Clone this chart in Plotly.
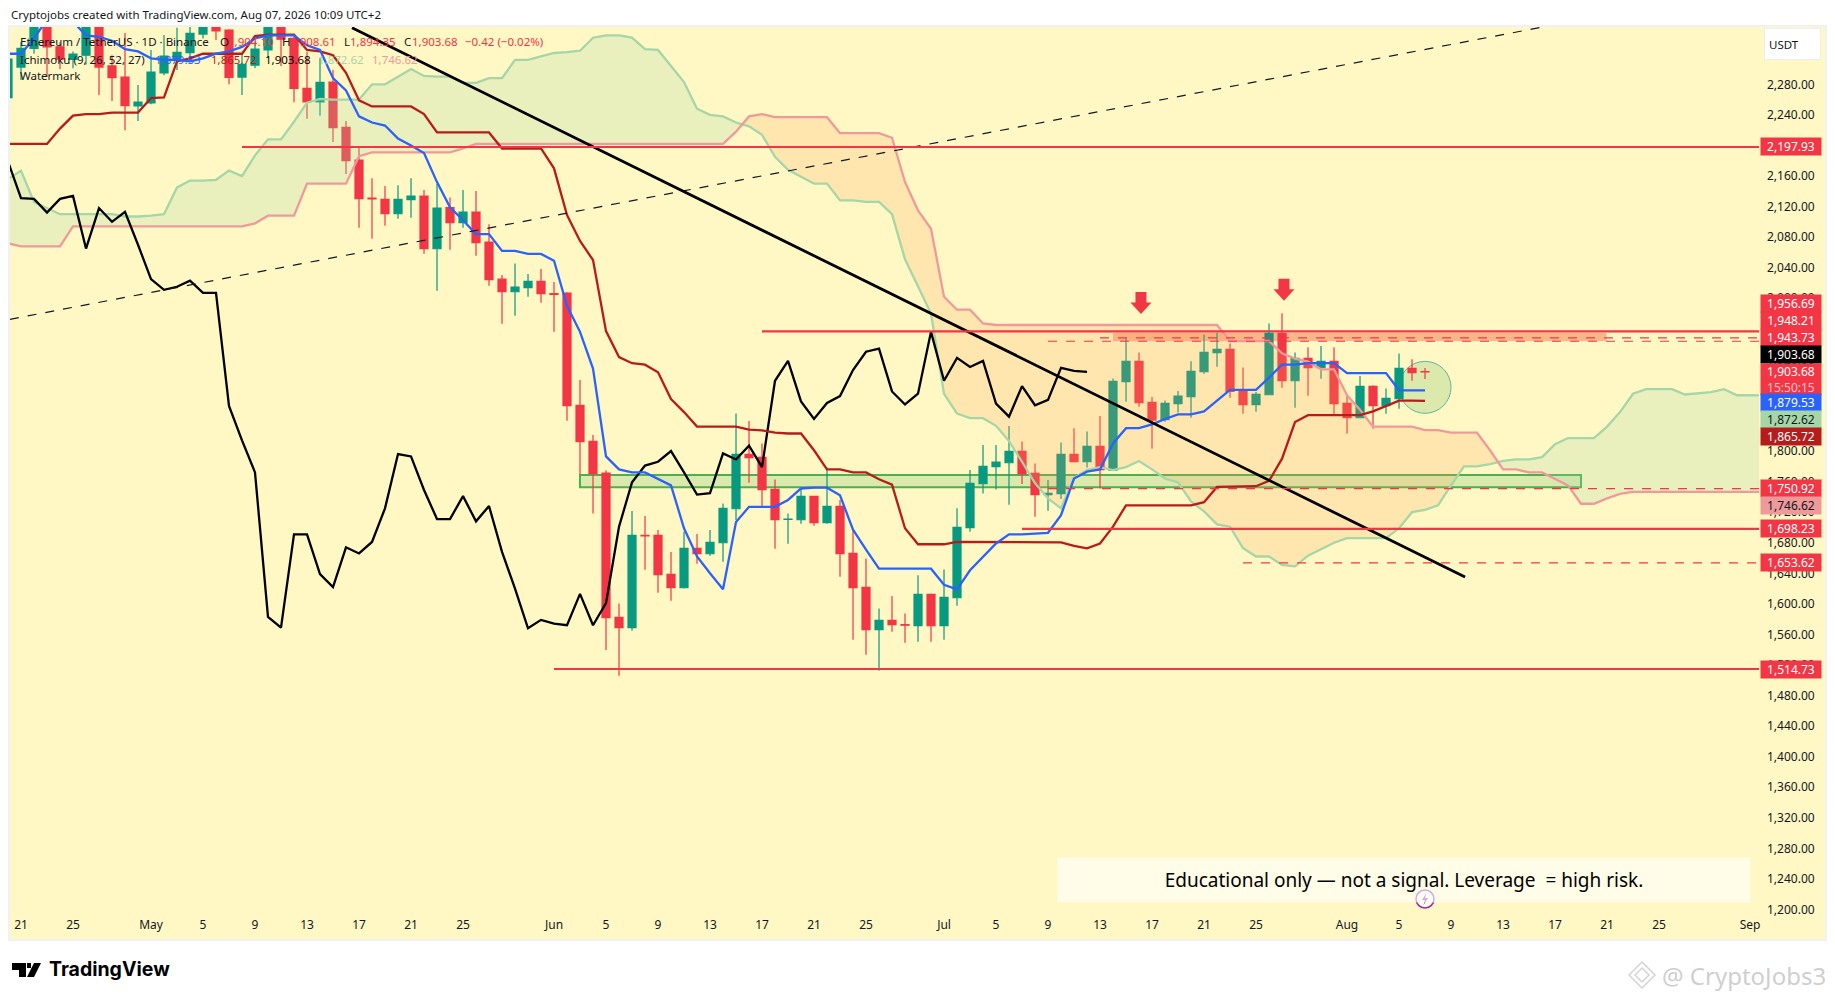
import numpy as np
import pandas as pd
import plotly.graph_objects as go

# first candle on the chart, everything below is counted in days from here
START_DATE = pd.Timestamp("2026-04-20")

opens = [2262.5, 2302.6, 2327, 2375, 2329, 2312.7, 2318, 2372, 2304, 2289.5,
         2251.6, 2255.5, 2294.8, 2314, 2321.4, 2345.8, 2355, 2351, 2289.5, 2305,
         2325, 2360, 2340, 2274.7, 2257, 2283, 2223.6, 2180.9, 2131, 2129.4,
         2110.6, 2129, 2133.8, 2064.8, 2118.5, 2098.9, 2112.8, 2073.5, 2025, 2008.5,
         2013.8, 2022, 2006, 2006.8, 1859.8, 1812.6, 1771.2, 1582.3, 1568.8, 1689.6,
         1689.6, 1638.6, 1621.1, 1672.6, 1665.6, 1680, 1724.5, 1795.6, 1791.7, 1749.8,
         1710.5, 1710.1, 1740.7, 1706.2, 1727.6, 1666, 1621.6, 1566.2, 1578.4, 1572.7,
         1571.4, 1612.4, 1571.4, 1608, 1699.7, 1757.2, 1779.5, 1784.7, 1799.6, 1770.8,
         1743, 1744.2, 1795.6, 1786, 1806.1, 1775.1, 1890.8, 1917.4, 1863.7, 1841,
         1862, 1871.1, 1903.8, 1928.7, 1933, 1878.1, 1860.7, 1873.7, 1954, 1892,
         1921.3, 1909, 1917.4, 1862.4, 1843.6, 1884.6, 1859.3, 1868.5, 1908.2, 1904.10]
highs = [2330, 2335, 2380, 2385, 2335, 2323, 2375, 2380, 2318, 2347,
         2279, 2325, 2344.5, 2354, 2360, 2372, 2365, 2352, 2320, 2336,
         2370, 2375, 2345, 2322.7, 2314, 2298.7, 2232, 2198.3, 2156.9, 2146.8,
         2148, 2156.9, 2141.6, 2149.5, 2132, 2141.6, 2140.3, 2097, 2030.4, 2045.6,
         2031.7, 2038.2, 2021.2, 2008, 1892.9, 1820.9, 1775, 1600.6, 1721.5, 1714.9,
         1696.6, 1667.8, 1694.4, 1691.4, 1696.6, 1731.5, 1849.3, 1839.3, 1810, 1762.9,
         1718.4, 1751.1, 1741, 1778.6, 1735.9, 1696.6, 1659.5, 1594, 1610.2, 1587.5,
         1637.3, 1613.7, 1645.1, 1725, 1775.1, 1807.8, 1807.8, 1832.7, 1812.6, 1783.8,
         1762, 1811.3, 1829.7, 1825.7, 1845.8, 1895, 1947.5, 1929.1, 1870.7, 1866.3,
         1878.5, 1917.4, 1952.7, 1955.3, 1940.9, 1909.5, 1877.2, 1967.1, 1980.2, 1929.1,
         1935.7, 1937.4, 1935.7, 1874.2, 1898.2, 1886, 1882, 1927.8, 1920, 1908.61]
lows = [2255, 2285.6, 2320, 2290, 2300, 2301, 2306, 2266, 2258, 2220,
        2232, 2254, 2292, 2298.7, 2315, 2340, 2338, 2280, 2266, 2301,
        2315, 2304, 2256.4, 2235, 2239, 2204.5, 2162.5, 2092.3, 2077.9, 2094.9,
        2104, 2105.4, 2058.3, 2009.8, 2063.5, 2092.3, 2055.7, 2016.4, 1966.7, 1977.1,
        2002, 1994.2, 1956, 1839.7, 1768.6, 1718.4, 1539.6, 1505.9, 1564.9, 1644.7,
        1614.6, 1604.1, 1620, 1652.5, 1663, 1655.1, 1709.7, 1758.6, 1725.8, 1672.2,
        1678.7, 1704.9, 1702.3, 1705, 1635.5, 1553, 1533.4, 1512.5, 1563.5, 1549.1,
        1550.5, 1550.5, 1553, 1597.6, 1694.4, 1744.6, 1749.8, 1729.8, 1756.8, 1714,
        1721.9, 1737.2, 1785, 1778.6, 1751.1, 1773.8, 1864.6, 1858, 1803.1, 1838.4,
        1850.6, 1843.6, 1901.2, 1910.4, 1869.8, 1848.9, 1851.5, 1873, 1882.9, 1856.7,
        1872.4, 1894.7, 1848, 1822.7, 1843, 1829.2, 1848.9, 1855.4, 1892, 1894.35]
closes = [2313, 2327, 2372, 2329, 2313, 2319.6, 2368, 2302.6, 2288.7, 2252,
          2256.8, 2296, 2317, 2321.8, 2346.7, 2355, 2350, 2289, 2306, 2326,
          2355, 2339, 2274.7, 2257, 2282.6, 2223.2, 2180, 2130.3, 2130, 2110.6,
          2129.4, 2133.8, 2064.8, 2118, 2098.9, 2112.8, 2072.7, 2024.2, 2008.5, 2014.7,
          2022, 2005.9, 2005, 1859.3, 1812.2, 1770.3, 1581.9, 1568.8, 1689.6, 1689,
          1638.1, 1621.1, 1672.6, 1665.6, 1680.5, 1724.9, 1795.6, 1791.3, 1749.4, 1710.1,
          1711, 1740.7, 1706.2, 1727.6, 1665.6, 1621.1, 1566.2, 1578.4, 1572.7, 1572,
          1612.4, 1571.4, 1608.5, 1700.1, 1757.7, 1780, 1785.6, 1799.6, 1770.3, 1742.8,
          1744.6, 1795.6, 1786, 1806.1, 1775.6, 1891.2, 1917.4, 1863.3, 1840.6, 1862.4,
          1872, 1904.3, 1929.1, 1933, 1878.1, 1860.7, 1874.2, 1954, 1892, 1921.3,
          1909, 1917.4, 1861.9, 1843.6, 1884.6, 1859.3, 1868.9, 1908.2, 1902.5, 1903.68]

# Ichimoku lines, one value per day from START_DATE
tenkan = [2320, 2320, 2340, 2365, 2375, 2362, 2344, 2342, 2337, 2326,
          2323, 2314, 2312, 2312, 2310, 2314, 2320, 2323, 2329, 2340,
          2344, 2344, 2344, 2331, 2325, 2288, 2272, 2238, 2230, 2226,
          2209, 2200, 2190, 2152, 2119, 2102, 2084, 2084, 2062, 2062,
          2058, 2058, 2049, 1990, 1956, 1908, 1793, 1776, 1772, 1772,
          1763, 1755, 1699, 1662, 1640, 1619, 1707, 1727, 1727, 1727,
          1736, 1751, 1752, 1752, 1742, 1697, 1671, 1646, 1646, 1646,
          1646, 1646, 1625, 1619, 1644, 1662, 1679, 1691, 1691, 1692,
          1693, 1716, 1764, 1773, 1776, 1810, 1830, 1830, 1835, 1842,
          1848, 1848, 1852, 1866, 1880, 1880, 1880, 1896, 1913, 1913,
          1915, 1915, 1915, 1902, 1902, 1902, 1902, 1879.5, 1879.5, 1879.53]
kijun = [2202, 2202, 2202, 2202, 2222, 2239, 2241, 2241, 2243, 2243,
         2243, 2262, 2263, 2310, 2314, 2320, 2320, 2320, 2320, 2343,
         2345, 2345, 2345, 2325, 2323, 2318, 2295, 2259, 2251, 2251,
         2251, 2251, 2241, 2217, 2217, 2217, 2217, 2217, 2196, 2196,
         2196, 2196, 2170, 2109, 2075, 2050, 1957, 1923, 1915, 1913,
         1903, 1868, 1851, 1832, 1832, 1832, 1832, 1828, 1827, 1824,
         1823, 1823, 1801, 1776, 1776, 1772, 1772, 1763, 1756, 1699,
         1678, 1678, 1678, 1681, 1681, 1681, 1681, 1681, 1681, 1681,
         1681, 1680.5, 1676, 1672.6, 1679, 1701, 1729, 1729, 1729, 1729,
         1729, 1729, 1733, 1753, 1753.5, 1753.5, 1754, 1761, 1790, 1838,
         1847, 1847, 1847, 1847, 1847, 1852, 1859, 1866, 1866, 1865.72]
chikou = [2179, 2131, 2130, 2112, 2130, 2134, 2065, 2118, 2100, 2113,
          2070, 2025, 2011, 2015, 2023, 2007, 2007, 1859, 1814, 1772,
          1583, 1569, 1691, 1691, 1639, 1622, 1674, 1666, 1681, 1725,
          1796, 1793, 1749, 1711, 1711, 1741, 1708, 1728, 1668, 1620,
          1568, 1579, 1574, 1572, 1613, 1572, 1601, 1701, 1759, 1781,
          1786, 1800, 1772, 1743, 1745, 1797, 1789, 1807, 1779, 1892,
          1918, 1865, 1842, 1863, 1872, 1906, 1930, 1934, 1878, 1861,
          1875, 1956, 1892, 1922, 1910, 1918, 1862, 1845, 1885, 1860,
          1867, 1909, 1905, 1903.68]
span_a = [2156, 2167, 2126, 2118, 2110, 2110, 2110, 2110, 2110, 2107,
          2107, 2108, 2110, 2145, 2154, 2154, 2155, 2167, 2160, 2187,
          2208, 2208, 2231, 2256, 2261, 2260, 2260, 2260, 2280, 2280,
          2290, 2300, 2291, 2290, 2290, 2282, 2282, 2288, 2288, 2312,
          2312, 2317, 2321, 2322, 2324, 2341, 2344, 2344, 2341, 2326,
          2325, 2304, 2283, 2248, 2240, 2238, 2230, 2225, 2214, 2185,
          2168, 2159, 2150, 2150, 2128, 2128, 2126, 2126, 2110, 2051,
          2015, 1980, 1875, 1849, 1843, 1843, 1833, 1813, 1786, 1758,
          1738, 1725, 1765, 1775, 1779, 1775, 1779, 1787, 1776, 1764,
          1759, 1734, 1721, 1704, 1701, 1673, 1662, 1662, 1651, 1649,
          1663, 1671, 1680, 1686, 1686, 1686, 1686, 1699, 1720, 1723,
          1729, 1755, 1780, 1780, 1783, 1787, 1789, 1789, 1792, 1809,
          1817, 1817, 1817, 1832, 1851, 1875, 1881, 1881, 1881, 1874,
          1875, 1877, 1881, 1873, 1873, 1872.62]
span_b = [2072, 2068, 2068, 2068, 2068, 2094, 2094, 2094, 2094, 2094,
          2094, 2094, 2094, 2094, 2094, 2094, 2094, 2094, 2094, 2098,
          2108, 2108, 2108, 2150, 2150, 2150, 2150, 2186, 2191, 2191,
          2191, 2191, 2191, 2191, 2191, 2196, 2202, 2202, 2202, 2202,
          2202, 2202, 2202, 2202, 2202, 2202, 2202, 2202, 2202, 2202,
          2202, 2202, 2202, 2202, 2202, 2202, 2218, 2238, 2241, 2237,
          2237, 2237, 2237, 2237, 2216, 2216, 2216, 2216, 2210, 2152,
          2115, 2091, 2002, 1985, 1985, 1967, 1965, 1965, 1965, 1965,
          1965, 1965, 1965, 1965, 1965, 1965, 1965, 1965, 1965, 1965,
          1965, 1965, 1965, 1965, 1944, 1944, 1944, 1944, 1928, 1921,
          1917, 1907, 1907, 1873, 1854, 1832, 1832, 1832, 1832, 1827.5,
          1827.5, 1824, 1824, 1824, 1801, 1776, 1776, 1772, 1772, 1763,
          1755, 1731, 1731, 1738, 1744, 1746.5, 1746.5, 1746.5, 1746.5, 1746.5,
          1746.5, 1746.5, 1746.5, 1746.5, 1746.5, 1746.62]

# axis labels
tick_dates = ["2026-04-21", "2026-04-25", "2026-05-01", "2026-05-05", "2026-05-09", "2026-05-13",
              "2026-05-17", "2026-05-21", "2026-05-25", "2026-06-01", "2026-06-05", "2026-06-09",
              "2026-06-13", "2026-06-17", "2026-06-21", "2026-06-25", "2026-07-01", "2026-07-05",
              "2026-07-09", "2026-07-13", "2026-07-17", "2026-07-21", "2026-07-25", "2026-08-01",
              "2026-08-05", "2026-08-09", "2026-08-13", "2026-08-17", "2026-08-21", "2026-08-25",
              "2026-09-01"]
tick_text = ["21", "25", "May", "5", "9", "13", "17", "21", "25", "Jun", "5", "9", "13", "17", "21",
             "25", "Jul", "5", "9", "13", "17", "21", "25", "Aug", "5", "9", "13", "17", "21", "25", "Sep"]
price_ticks = list(range(1200, 2281, 40))

# drawings: level, first day
level_prices = [2197.93, 1956.69, 1698.23, 1514.73]
level_starts = ["2026-05-08", "2026-06-17", "2026-07-07", "2026-06-01"]
dashed_prices = [1948.21, 1943.73, 1750.92, 1653.62]
dashed_starts = ["2026-07-13", "2026-07-09", "2026-07-09", "2026-07-24"]

# the two sloped lines, as day number and price of both ends
falling_days = [26.46, 112.08]
falling_prices = [2354, 1635.1]
rising_days = [0.15, 117.85]
rising_prices = [1972.4, 2354.3]

# price badges on the right: text, fill, text colour, y pixel (stacked like the original)
badge_text = ["2,197.93", "1,956.69", "1,948.21", "1,943.73", "1,903.68",
              "1,903.68<br><span style='color:#ffc2c7'>15:50:15</span>", "1,879.53", "1,872.62",
              "1,865.72", "1,750.92", "1,746.62", "1,698.23", "1,653.62", "1,514.73"]
badge_fill = ["#F23645", "#F23645", "#F23645", "#F23645", "#000000", "#F23645", "#2962FF", "#A5D6A7",
              "#B71C1C", "#F23645", "#EF9A9A", "#F23645", "#F23645", "#F23645"]
badge_font = ["white", "white", "white", "white", "white", "white", "white", "#131722",
              "white", "white", "#131722", "white", "white", "white"]
badge_y = [147, 303.5, 320.7, 337.5, 354.8, 379, 402.6, 419.8, 436.7, 488.7, 505.9, 528.9, 562.6, 669]

legend_top = ["Ethereum / TetherUS · 1D · Binance", "O", "1,904.10", "H", "1,908.61", "L", "1,894.35",
              "C", "1,903.68", "−0.42 (−0.02%)"]
legend_top_x = [18, 218, 226, 280, 288, 342, 348, 402, 410, 463]
legend_top_col = ["#131722", "#131722", "#F23645", "#131722", "#F23645", "#131722", "#F23645",
                  "#131722", "#F23645", "#F23645"]
legend_ichi = ["Ichimoku (9, 26, 52, 27)", "1,879.53", "1,865.72", "1,903.68", "1,872.62", "1,746.62"]
legend_ichi_x = [18, 153, 209, 263, 316, 370]
legend_ichi_col = ["#131722", "#2962FF", "#B71C1C", "#000000", "#A5D6A7", "#EF9A9A"]

# plot area in page pixels
PLOT_L, PLOT_R, PLOT_T, PLOT_B = 10, 1759, 27, 912
RED = "#F23645"
GREEN = "#089981"


def day(n):
    "Дата по номеру дня от начала графика"
    return START_DATE + pd.Timedelta(days=float(n))


def paper_x(px):
    return (px - PLOT_L) / (PLOT_R - PLOT_L)


def paper_y(py):
    return (PLOT_B - py) / (PLOT_B - PLOT_T)


def cloud_polygons(a, b):
    "Splits the cloud where span A and span B cross, returns (above, polygon x, a side, b side)"
    runs = []
    xs, ra, rb = [0], [a[0]], [b[0]]
    for i in range(1, len(a)):
        d0, d1 = a[i - 1] - b[i - 1], a[i] - b[i]
        if d0 * d1 < 0:
            t = d0 / (d0 - d1)
            cross = a[i - 1] + t * (a[i] - a[i - 1])
            xs.append(i - 1 + t)
            ra.append(cross)
            rb.append(cross)
            runs.append((d0 > 0, xs, ra, rb))
            xs, ra, rb = [i - 1 + t], [cross], [cross]
        xs.append(i)
        ra.append(a[i])
        rb.append(b[i])
    runs.append((a[-1] > b[-1], xs, ra, rb))
    return runs


def pixel_path(x, y, path, color, xref="paper", yref="paper", line=0):
    "Shape of fixed pixel size, anchored at one point"
    return dict(type="path", path=path, xsizemode="pixel", ysizemode="pixel", xanchor=x, yanchor=y,
                xref=xref, yref=yref, fillcolor=color, line=dict(width=line, color=color), layer="above")


def add_line(x, y, color, width, dash="solid"):
    fig.add_trace(go.Scatter(x=x, y=y, mode="lines", line=dict(color=color, width=width, dash=dash),
                             hoverinfo="skip"))


fig = go.Figure()

days_all = [day(i) for i in range(len(span_a))]
x_end = day(134.69)

# cloud
for above, xs, ra, rb in cloud_polygons(span_a, span_b):
    poly_x = [day(v) for v in xs] + [day(v) for v in xs[::-1]]
    fig.add_trace(go.Scatter(x=poly_x, y=ra + rb[::-1], mode="lines", fill="toself", line=dict(width=0),
                             fillcolor="rgba(165,214,167,0.24)" if above else "rgba(250,160,90,0.2)",
                             hoverinfo="skip"))

add_line(days_all, span_a, "#A5D6A7", 2.3)
add_line(days_all, span_b, "#EF9A9A", 2.3)
add_line(days_all[:len(chikou)], chikou, "#000000", 2.3)
add_line(days_all[:len(kijun)], kijun, "#B71C1C", 2.3)
add_line(days_all[:len(tenkan)], tenkan, "#2962FF", 2.3)

# the candles sit on top of the drawings, so these go in as traces before them
add_line([day(v) for v in rising_days], rising_prices, "#131722", 1.2, "dash")
add_line([day(v) for v in falling_days], falling_prices, "#000000", 2.8)
for price, start in zip(level_prices, level_starts):
    add_line([start, x_end], [price, price], RED, 2.2)
for price, start in zip(dashed_prices, dashed_starts):
    add_line([start, x_end], [price, price], RED, 1.2, "dash")

fig.add_trace(go.Candlestick(
    x=days_all[:len(opens)], open=opens, high=highs, low=lows, close=closes,
    increasing=dict(line=dict(color=GREEN, width=1.2), fillcolor=GREEN),
    decreasing=dict(line=dict(color=RED, width=1.2), fillcolor=RED),
))

shapes = []

# pane background and border
shapes.append(dict(type="rect", xref="paper", yref="paper", x0=paper_x(9), x1=paper_x(1826),
                   y0=paper_y(26), y1=paper_y(940), fillcolor="#FFF8C4", line=dict(color="#F0F1F4", width=2),
                   layer="below"))

# zones and circle under the candles
shapes.append(dict(type="rect", x0=day(84.95), x1=day(123), y0=1943, y1=1955.4,
                   fillcolor="rgba(255,82,40,0.4)", line=dict(color="rgba(255,255,255,0.8)", width=1),
                   layer="below"))
shapes.append(dict(type="rect", x0=day(44), x1=day(121), y0=1752.5, y1=1768.6,
                   fillcolor="rgba(76,175,80,0.2)", line=dict(color="#4CAF50", width=2), layer="below"))
shapes.append(dict(type="circle", x0=day(107), x1=day(111), y0=1849.4, y1=1917.4,
                   fillcolor="rgba(76,175,80,0.2)", line=dict(color="#5FB79A", width=1), layer="below"))

# red arrows, tip at the anchor
arrow = "M 0 0 L -10.5 11.5 L -5.5 11.5 L -5.5 22 L 5.5 22 L 5.5 11.5 L 10.5 11.5 Z"
shapes.append(pixel_path(day(87.15), 1979.3, arrow, RED, xref="x", yref="y"))
shapes.append(pixel_path(day(98.15), 1996.7, arrow, RED, xref="x", yref="y"))

# TradingView logo
shapes.append(pixel_path(paper_x(12), paper_y(977),
                         "M 0 14 L 14 14 L 14 0 L 7 0 L 7 7 L 0 7 Z", "#000000"))
shapes.append(pixel_path(paper_x(12), paper_y(977),
                         "M 15 14 L 19 14 L 19 9 L 15 9 Z", "#000000"))
shapes.append(pixel_path(paper_x(12), paper_y(977),
                         "M 29 14 L 22 14 L 15 0 L 22 0 Z", "#000000"))

# watermark icon
for size in (13, 7):
    shapes.append(dict(type="path", xsizemode="pixel", ysizemode="pixel", xanchor=paper_x(1642),
                       yanchor=paper_y(975), xref="paper", yref="paper", layer="above",
                       path=f"M 0 {size} L {size} 0 L 0 {-size} L {-size} 0 Z",
                       line=dict(color="#D4D4D4", width=1.5)))

# purple lightning marker
shapes.append(dict(type="circle", xsizemode="pixel", ysizemode="pixel", xanchor=paper_x(1425),
                   yanchor=paper_y(899), xref="paper", yref="paper", x0=-9, x1=9, y0=-9, y1=9,
                   fillcolor="#FFFDE8", line=dict(color="#9C27B0", width=1.5), layer="above"))
shapes.append(pixel_path(paper_x(1425), paper_y(899), "M 1.5 6 L -3 -1 L 0 -1 L -1.5 -6 L 3 1 L 0 1 Z", "#9C27B0"))

annotations = []


def add_text(text, px, py, size=12, color="#131722", anchor="left", **kwargs):
    annotations.append(dict(text=text, xref="paper", yref="paper", x=paper_x(px), y=paper_y(py),
                            xanchor=anchor, yanchor="middle", showarrow=False,
                            font=dict(size=size, color=color, family=kwargs.pop("family", "Noto Sans")),
                            **kwargs))


add_text("Cryptojobs created with TradingView.com, Aug 07, 2026 10:09 UTC+2", 9, 15, size=11.5)
for text, px, col in zip(legend_top, legend_top_x, legend_top_col):
    add_text(text, px, 42, size=11.5, color=col)
for text, px, col in zip(legend_ichi, legend_ichi_x, legend_ichi_col):
    add_text(text, px, 59, size=11.5, color=col)
add_text("Watermark", 18, 76, size=11.5)

for text, fill, col, py in zip(badge_text, badge_fill, badge_font, badge_y):
    two_lines = "<br>" in text
    add_text(text, 1760, py, size=12, color=col, bgcolor=fill, width=60, height=31 if two_lines else 17,
             align="center", borderpad=0)

add_text("USDT", 1764, 44, size=11.5, bgcolor="white", bordercolor="#EDEEF1", borderwidth=1,
         width=47, height=22, align="left", borderpad=4)

add_text("Educational only — not a signal. Leverage  = high risk.", 1057, 880, size=19, color="#000000",
         bgcolor="rgba(255,255,255,0.6)", width=692, height=44, align="center", borderpad=0)

add_text("<b>TradingView</b>", 47, 969, size=19.5, color="#000000", family="Inter")
add_text("@ CryptoJobs3", 1660, 975, size=24, color="#CFCFCF")

fig.update_layout(
    width=1835,
    height=1000,
    autosize=False,
    margin=dict(l=PLOT_L, r=1835 - PLOT_R, t=PLOT_T, b=1000 - PLOT_B, pad=0),
    paper_bgcolor="white",
    plot_bgcolor="rgba(0,0,0,0)",
    showlegend=False,
    boxgap=0.12,
    font=dict(family="Noto Sans", size=12, color="#131722"),
    shapes=shapes,
    annotations=annotations,
    xaxis=dict(type="date", range=[day(0.154), x_end], tickvals=tick_dates, ticktext=tick_text,
               showgrid=False, zeroline=False, showline=False, ticks="", ticklabelstandoff=4,
               rangeslider=dict(visible=False), automargin=False, tickangle=0),
    yaxis=dict(side="right", range=[1196.7, 2355], tickvals=price_ticks, tickformat=",.2f",
               showgrid=False, zeroline=False, showline=False, ticks="", ticklabelstandoff=7,
               automargin=False),
)

fig.write_html("out.html", config=dict(displayModeBar=False),
               post_script="document.body.style.margin='0';")
